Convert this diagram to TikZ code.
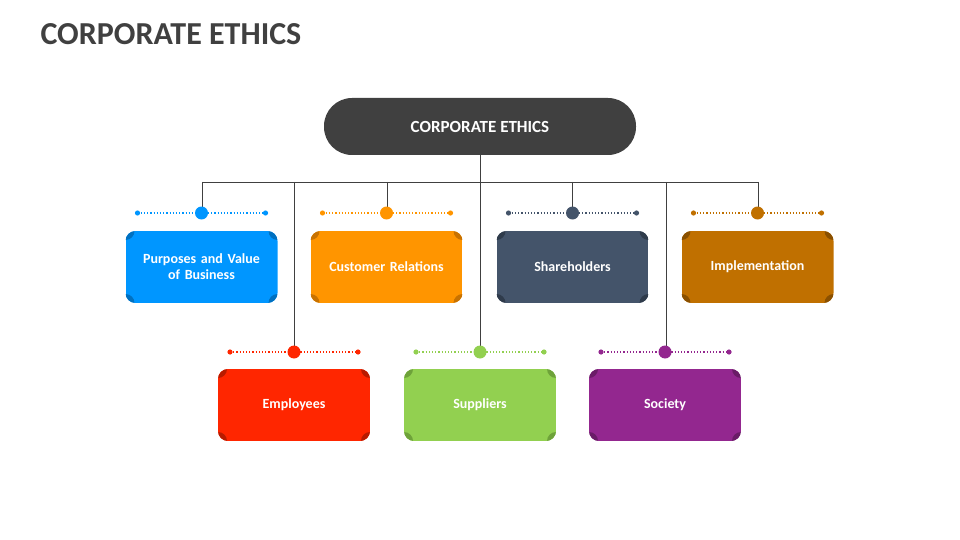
\documentclass[tikz,border=0pt]{standalone}
\usepackage{fontspec}
\setmainfont{Carlito}
\definecolor{cblue}{HTML}{0096FF}\definecolor{dblue}{HTML}{0070C0}
\definecolor{corange}{HTML}{FF9500}\definecolor{dorange}{HTML}{C87200}
\definecolor{cslate}{HTML}{44546A}\definecolor{dslate}{HTML}{2F3B4B}
\definecolor{cbrown}{HTML}{C07000}\definecolor{dbrown}{HTML}{8A5000}
\definecolor{cred}{HTML}{FF2600}\definecolor{dred}{HTML}{B81B00}
\definecolor{cgreen}{HTML}{92D050}\definecolor{dgreen}{HTML}{6EA23A}
\definecolor{cpurple}{HTML}{93278F}\definecolor{dpurple}{HTML}{6A1C67}
\definecolor{cdark}{HTML}{404040}
\tikzset{line/.style={draw=cdark,line width=0.8pt}}
\newcommand{\cbox}[7]{% name, cx, cy, fill, dark, text
  \begin{scope}
    \clip[rounded corners=10pt] (#2-76,#3-36) rectangle (#2+76,#3+36);
    \fill[#4] (#2-76,#3-36) rectangle (#2+76,#3+36);
    \foreach \dx/\dy in {-76/-36,76/-36,-76/36,76/36}
      \fill[#5] (#2+\dx,#3+\dy) circle (9);
  \end{scope}
  \node[text=white,font=\fontsize{14}{16}\selectfont\bfseries,align=center,text width=140pt] (#1) at (#2,#3) {#6};
  \coordinate (#1d) at (#2,#7);
  \draw[#4,line width=1.2pt,dotted] (#2-64,#7) -- (#2+64,#7);
  \fill[#4] (#2-64,#7) circle (2.6) (#2+64,#7) circle (2.6) (#2,#7) circle (6.5);
}
\begin{document}
\begin{tikzpicture}[x=1pt,y=-1pt]
\useasboundingbox (0,0) rectangle (960,540);
\node[anchor=west,text=cdark,font=\fontsize{32}{36}\selectfont\bfseries] (title) at (37,34) {CORPORATE ETHICS};
\node[fill=cdark,rounded corners=28pt,minimum width=312pt,minimum height=57pt,text=white,font=\fontsize{17}{20}\selectfont\bfseries] (main) at (480,126.5) {CORPORATE ETHICS};
\coordinate (bl) at (202,182); \coordinate (br) at (758,182);
\draw[line] (bl) -- (br);
\draw[line] (main.south) -- (480,352);
\foreach \x in {202,387,572,758} \draw[line] (\x,182) -- (\x,213);
\foreach \x in {294,666} \draw[line] (\x,182) -- (\x,352);
\cbox{b1}{201.5}{267}{cblue}{dblue}{Purposes and Value\\of Business}{213}
\cbox{b2}{386.5}{267}{corange}{dorange}{Customer Relations}{213}
\cbox{b3}{572.5}{267}{cslate}{dslate}{Shareholders}{213}
\cbox{b4}{757.5}{267}{cbrown}{dbrown}{Implementation}{213}
\cbox{b5}{294}{405}{cred}{dred}{Employees}{352}
\cbox{b6}{480}{405}{cgreen}{dgreen}{Suppliers}{352}
\cbox{b7}{665}{405}{cpurple}{dpurple}{Society}{352}
\end{tikzpicture}
\end{document}
